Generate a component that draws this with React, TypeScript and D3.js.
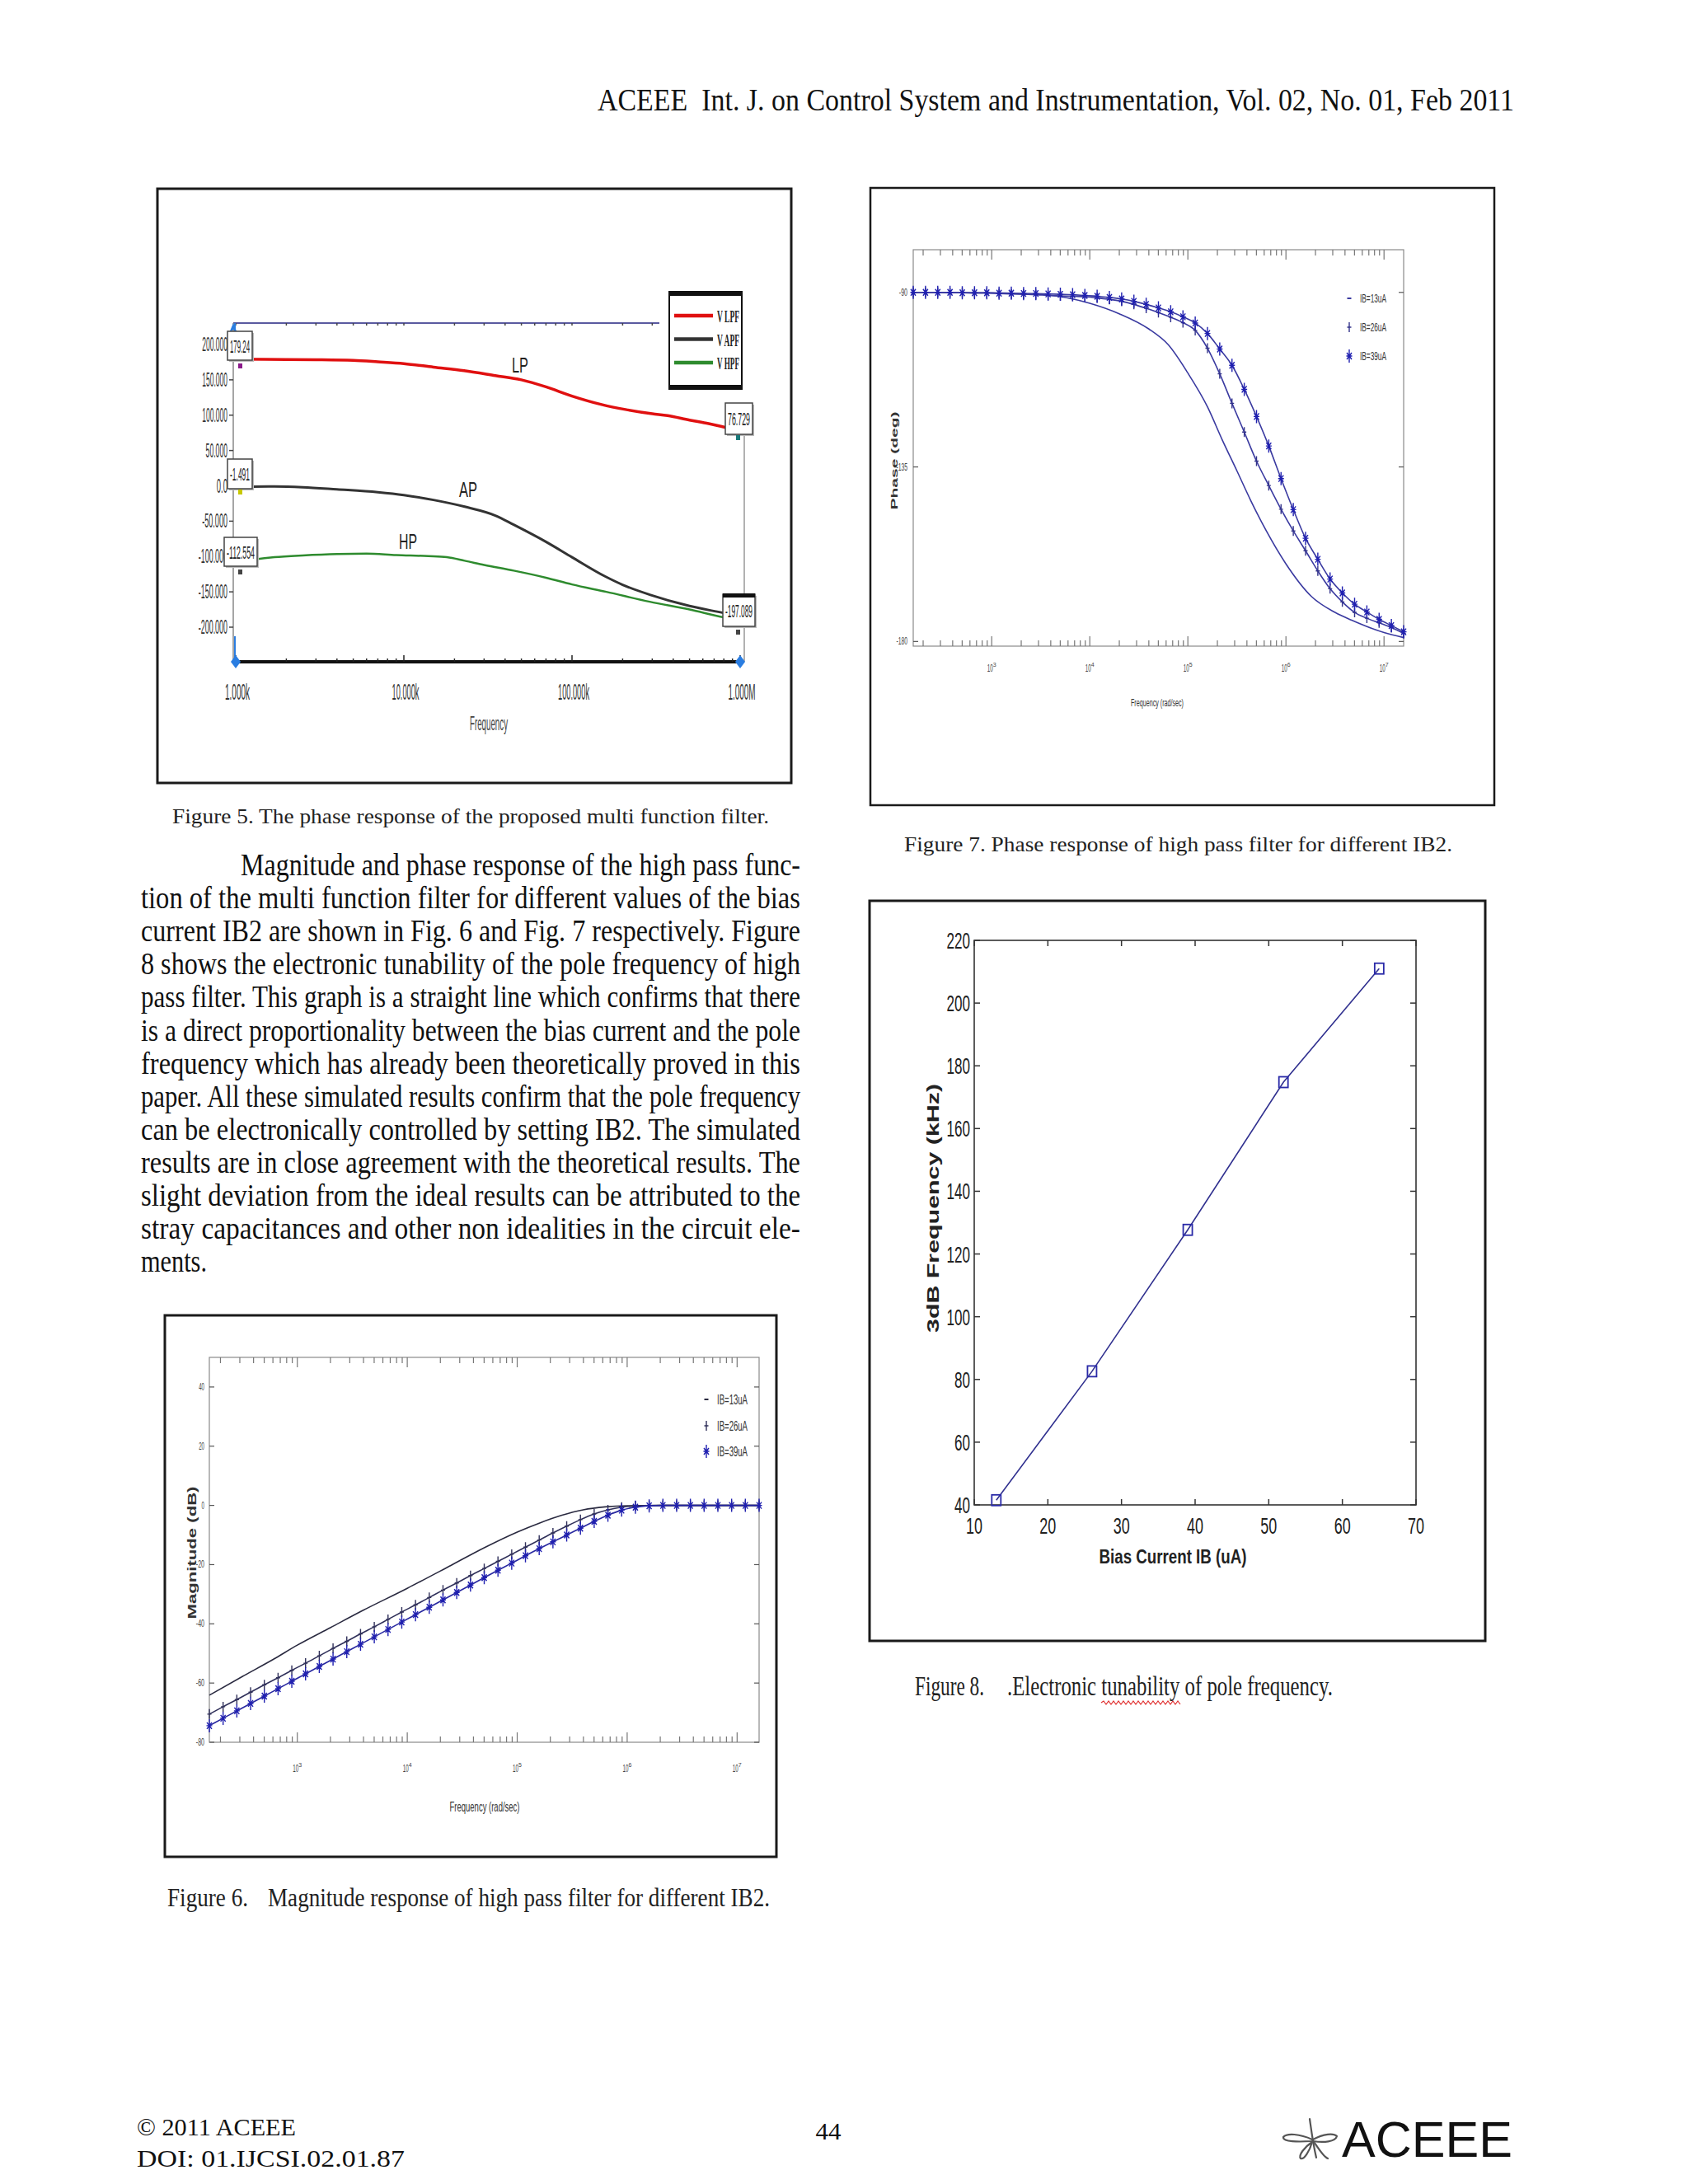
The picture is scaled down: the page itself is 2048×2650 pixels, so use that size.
import React from "react";
import * as d3 from "d3";

// ---------------- page text ----------------
const HEADER = "ACEEE  Int. J. on Control System and Instrumentation, Vol. 02, No. 01, Feb 2011";
const PARAGRAPH_LINES = [
  "Magnitude and phase response of the high pass func-",
  "tion of the multi function filter for different values of the bias",
  "current IB2 are shown in Fig. 6 and Fig. 7 respectively. Figure",
  "8 shows the electronic tunability of the pole frequency of high",
  "pass filter. This graph is a straight line which confirms that there",
  "is a direct proportionality between the bias current and the pole",
  "frequency which has already been theoretically proved in this",
  "paper. All these simulated results confirm that the pole frequency",
  "can be electronically controlled by setting IB2. The simulated",
  "results are in close agreement with the theoretical results. The",
  "slight deviation from the ideal results can be attributed to the",
  "stray capacitances and other non idealities in the circuit ele-",
  "ments.",
];
const CAPTION5 = "Figure 5. The phase response of the proposed multi function filter.";
const CAPTION7 = "Figure 7. Phase response of high pass filter for different IB2.";
const CAPTION6_A = "Figure 6.";
const CAPTION6_B = "Magnitude response of high pass filter for different IB2.";
const CAPTION8_A = "Figure 8.";
const CAPTION8_B = ".Electronic tunability of pole frequency.";

// ---------------- Figure 5 data ----------------
const fig5YTicks = [200, 150, 100, 50, 0, -50, -100, -150, -200];
const fig5YTickLabels = ["200.000", "150.000", "100.000", "50.000", "0.0", "-50.000", "-100.000", "-150.000", "-200.000"];
const fig5XTicks = [1e3, 1e4, 1e5, 1e6];
const fig5XTickLabels = ["1.000k", "10.000k", "100.000k", "1.000M"];
const fig5LegendLabels = ["V LPF", "V APF", "V HPF"];
const lpFreq = [1000, 1500, 2000, 3000, 5000, 7000, 10000, 15000, 22800, 35000, 50000, 70000, 100000, 150000, 208000, 300000, 370000, 500000, 650000, 870000, 1000000];
const lpPhase = [179.2, 179, 178.8, 178.5, 177.5, 175.5, 173, 168, 163, 156, 150, 140, 127, 115, 108, 102, 99.4, 93, 88, 81, 76.7];
const apFreq = [1000, 1700, 2500, 4000, 7000, 10000, 15000, 23000, 35000, 45000, 71000, 100000, 157000, 200000, 290000, 500000, 800000, 1000000];
const apPhase = [-1.5, -1, -2, -5, -9, -13, -20, -29.5, -42, -55, -80, -101, -128, -140, -154, -170, -180, -185];
const hpFreq = [1000, 1300, 1700, 2500, 4000, 6000, 9000, 14000, 18000, 23000, 30000, 45000, 70000, 100000, 160000, 290000, 500000, 800000, 1000000];
const hpPhase = [-108, -104, -101, -98.5, -96.5, -96, -98, -99.5, -101, -106, -112, -120, -130, -139.5, -150, -164, -175, -186, -190];

// ---------------- Figure 6 / 7 data (log10 of rad/sec) ----------------
const bodeExp = [2.2, 2.325, 2.45, 2.575, 2.7, 2.825, 2.95, 3.075, 3.2, 3.325, 3.45, 3.575, 3.7, 3.825, 3.95, 4.075, 4.2, 4.325, 4.45, 4.575, 4.7, 4.825, 4.95, 5.075, 5.2, 5.325, 5.45, 5.575, 5.7, 5.825, 5.95, 6.075, 6.2, 6.325, 6.45, 6.575, 6.7, 6.825, 6.95, 7.075, 7.2];
const mag13Exp = [2.2, 2.5, 2.8, 3.0, 3.3, 3.6, 4.0, 4.4, 4.7, 5.0, 5.2, 5.4, 5.6, 5.8, 6.0, 6.3, 7.2];
const mag13 = [-64.1, -57.8, -51.6, -47.2, -41.3, -35.4, -28.0, -20.2, -14.3, -9.0, -6.0, -3.4, -1.5, -0.5, -0.1, 0, 0];
const mag26 = [-70.5, -68.0, -65.6, -63.1, -60.6, -58.2, -55.7, -53.3, -50.8, -48.3, -45.9, -43.4, -41.0, -38.5, -36.0, -33.6, -31.1, -28.6, -26.2, -23.7, -21.3, -18.9, -16.5, -14.1, -11.7, -9.3, -7.0, -4.8, -2.9, -1.5, -0.6, -0.2, -0.05, 0, 0, 0, 0, 0, 0, 0, 0];
const mag39 = [-74.4, -71.9, -69.4, -66.9, -64.4, -61.9, -59.4, -56.9, -54.4, -51.9, -49.4, -46.9, -44.4, -41.9, -39.4, -36.9, -34.4, -31.9, -29.4, -26.9, -24.4, -21.9, -19.5, -17.0, -14.6, -12.3, -10.0, -7.7, -5.4, -3.3, -1.6, -0.6, -0.15, 0, 0, 0, 0, 0, 0, 0, 0];
const phase13Exp = [2.2, 3.0, 3.5, 4.0, 4.3, 4.6, 4.8, 5.0, 5.2, 5.35, 5.5, 5.64, 5.8, 6.0, 6.26, 6.5, 6.67, 7.0, 7.2];
const phase13 = [-90, -90.1, -90.5, -92.8, -95.5, -99.4, -103.5, -110.8, -119.5, -128, -136, -143.6, -151.5, -160, -168.4, -172.5, -174.5, -177.7, -179];
const phase26 = [-90.0, -90.0, -90.0, -90.1, -90.1, -90.2, -90.2, -90.3, -90.4, -90.5, -90.6, -90.8, -90.9, -91.0, -91.1, -91.4, -91.8, -92.3, -93.1, -94.1, -95.2, -96.4, -97.8, -99.8, -104.4, -111.0, -118.6, -126.0, -133.5, -139.8, -145.9, -151.5, -156.6, -161.8, -166.4, -169.8, -172.5, -174.0, -175.2, -176.4, -177.9];
const phase39 = [-90.0, -90.0, -90.0, -90.0, -90.1, -90.1, -90.1, -90.2, -90.2, -90.3, -90.3, -90.4, -90.5, -90.6, -90.8, -91.0, -91.3, -91.7, -92.3, -93.1, -94.0, -95.0, -96.3, -97.9, -100.6, -104.6, -108.8, -115.0, -122.0, -129.6, -138.0, -146.0, -153.4, -158.8, -163.9, -167.5, -170.4, -172.4, -174.3, -175.9, -177.5];
const bodeLegend = ["IB=13uA", "IB=26uA", "IB=39uA"];
const fig6YTicks = [-80, -60, -40, -20, 0, 20, 40];
const fig7YTicks = [-180, -135, -90];
const bodeMajorExp = [3, 4, 5, 6, 7];

// ---------------- Figure 8 data ----------------
const fig8Ib = [13, 26, 39, 52, 65];
const fig8F3db = [41.5, 82.6, 127.7, 174.8, 211.0];
const fig8XTicks = [10, 20, 30, 40, 50, 60, 70];
const fig8YTicks = [40, 60, 80, 100, 120, 140, 160, 180, 200, 220];

const SERIF = "'Liberation Serif', 'Times New Roman', serif";
const SANS = "'Liberation Sans', Arial, sans-serif";

type Marker = "none" | "plus" | "star";

function markerPath(m: Marker, x: number, y: number): string {
  if (m === "plus") return `M${x},${y - 6}V${y + 6}M${x - 2.5},${y}H${x + 2.5}`;
  if (m === "star")
    return `M${x},${y - 8}V${y + 8}M${x - 3.5},${y}H${x + 3.5}M${x - 3},${y - 4}L${x + 3},${y + 4}M${x - 3},${y + 4}L${x + 3},${y - 4}`;
  return `M${x - 2.5},${y}H${x + 2.5}`;
}

function T(props: any) {
  const { children, len, adj, ...rest } = props;
  return (
    <text {...rest} textLength={len} lengthAdjust={adj || "spacingAndGlyphs"} style={{ whiteSpace: "pre" }}>
      {children}
    </text>
  );
}

// ---------------- Figure 5 ----------------
function Figure5() {
  const x = d3.scaleLog().domain([1e3, 1e6]).range([286, 898]);
  const y = d3.scaleLinear().domain([-200, 200]).range([761, 418]);
  const line = d3
    .line<[number, number]>()
    .x((d) => x(d[0]))
    .y((d) => y(d[1]))
    .curve(d3.curveMonotoneX);
  const minor: number[] = [];
  for (let k = 3; k <= 5; k++) for (let m = 1; m <= 9; m++) minor.push(m * Math.pow(10, k));
  minor.push(1e6);
  const lp = lpFreq.map((f, i) => [f, lpPhase[i]] as [number, number]);
  const ap = apFreq.map((f, i) => [f, apPhase[i]] as [number, number]);
  const hp = hpFreq.map((f, i) => [f, hpPhase[i]] as [number, number]);
  const box = (bx: number, by: number, bw: number, bh: number, label: string, heavy = false) => (
    <g>
      <rect x={bx + 2} y={by + 2} width={bw} height={bh} fill="#bbb" />
      <rect x={bx} y={by} width={bw} height={bh} fill="#fff" stroke="#444" strokeWidth={1.5} />
      {heavy && <rect x={bx} y={by - 1} width={bw} height={5} fill="#111" />}
      <T x={bx + bw / 2} y={by + bh / 2 + 8} fontFamily={SANS} fontSize={22} textAnchor="middle" fill="#222" len={bw - 6}>
        {label}
      </T>
    </g>
  );
  return (
    <g>
      <rect x={191} y={229} width={769} height={721} fill="#fff" stroke="#1a1a1a" strokeWidth={3} />
      {/* top blue line */}
      <line x1={283} x2={800} y1={392} y2={392} stroke="#5a5aa0" strokeWidth={2} />
      {minor.filter((v) => x(v) <= 800).map((v, i) => (
        <line key={"tm" + i} x1={x(v)} x2={x(v)} y1={392} y2={395} stroke="#444" strokeWidth={1.5} />
      ))}
      {/* y axis */}
      <line x1={283} x2={283} y1={392} y2={803} stroke="#888" strokeWidth={1.5} />
      <line x1={903} x2={903} y1={527} y2={803} stroke="#999" strokeWidth={1.5} />
      {fig5YTicks.map((v, i) => (
        <g key={"yt" + i}>
          <line x1={278} x2={283} y1={y(v)} y2={y(v)} stroke="#444" strokeWidth={1.5} />
          <T x={276} y={y(v) + 8} fontFamily={SANS} fontSize={24} textAnchor="end" fill="#333" len={fig5YTickLabels[i].length * 4.4}>
            {fig5YTickLabels[i]}
          </T>
        </g>
      ))}
      {/* bottom axis */}
      <line x1={283} x2={900} y1={803} y2={803} stroke="#111" strokeWidth={4} />
      {minor.map((v, i) => (
        <line key={"bm" + i} x1={x(v)} x2={x(v)} y1={803} y2={fig5XTicks.includes(v) ? 795 : 799} stroke="#222" strokeWidth={1.5} />
      ))}
      {fig5XTicks.map((v, i) => (
        <T key={"xl" + i} x={x(v) + 2} y={849} fontFamily={SANS} fontSize={28} textAnchor="middle" fill="#333" len={[30, 33, 38, 33][i]}>
          {fig5XTickLabels[i]}
        </T>
      ))}
      <T x={593} y={886} fontFamily={SANS} fontSize={24} textAnchor="middle" fill="#444" len={46}>
        Frequency
      </T>
      {/* cursors */}
      <path d="M283,392 L278,404 L283,400 L288,404 Z" fill="#2a7de1" />
      <line x1={285} x2={285} y1={392} y2={410} stroke="#2a7de1" strokeWidth={2} />
      <line x1={285} x2={285} y1={772} y2={803} stroke="#2a7de1" strokeWidth={2} />
      <path d="M286,795 L292,803 L286,811 L280,803 Z" fill="#2a7de1" />
      <path d="M898,795 L904,803 L898,811 L892,803 Z" fill="#2a7de1" />
      {/* curves */}
      <path d={line(hp) || ""} fill="none" stroke="#2e8b2e" strokeWidth={2.5} />
      <path d={line(ap) || ""} fill="none" stroke="#333" strokeWidth={3} />
      <path d={line(lp) || ""} fill="none" stroke="#e01010" strokeWidth={3.5} />
      {/* curve labels */}
      <T x={631} y={452} fontFamily={SANS} fontSize={26} textAnchor="middle" fill="#222" len={20}>LP</T>
      <T x={568} y={603} fontFamily={SANS} fontSize={26} textAnchor="middle" fill="#222" len={22}>AP</T>
      <T x={495} y={666} fontFamily={SANS} fontSize={26} textAnchor="middle" fill="#222" len={22}>HP</T>
      {/* data labels */}
      {box(276, 402, 30, 35, "179.24")}
      {box(276, 557, 30, 36, "-1.491")}
      {box(272, 652, 40, 35, "-112.554")}
      {box(880, 489, 33, 38, "76.729")}
      {box(877, 721, 39, 39, "-197.089", true)}
      <rect x={289} y={441} width={5} height={6} fill="#8a1a8a" />
      <rect x={289} y={594} width={5} height={6} fill="#c8c800" />
      <rect x={289} y={691} width={5} height={6} fill="#444" />
      <rect x={893} y={528} width={5} height={6} fill="#1a7a7a" />
      <rect x={893} y={764} width={5} height={6} fill="#444" />
      {/* legend */}
      <rect x={812} y={356} width={88} height={114} fill="#fff" stroke="#111" strokeWidth={2} />
      <rect x={811} y={353} width={90} height={6} fill="#111" />
      <rect x={811} y={467} width={90} height={6} fill="#111" />
      {["#e01010", "#333", "#2e8b2e"].map((c, i) => (
        <g key={"lg" + i}>
          <line x1={818} x2={865} y1={383 + i * 28.5} y2={383 + i * 28.5} stroke={c} strokeWidth={4.5} />
          <T x={870} y={391 + i * 28.5} fontFamily={SERIF} fontWeight="bold" fontSize={22} fill="#222" len={27}>
            {fig5LegendLabels[i]}
          </T>
        </g>
      ))}
    </g>
  );
}

// ---------------- Bode plots (Figures 6 and 7) ----------------
type Series = { exps: number[]; vals: number[]; color: string; marker: Marker; markColor: string };
type BodeProps = {
  L: number; R: number; T: number; B: number;
  yDomain: [number, number]; yTicks: number[];
  series: Series[];
  legX: number; legTextX: number; legYs: number[]; legLen: number; legSize: number;
  xLabelX: number; xLabelY: number; xLabelLen: number; xLabelSize: number;
  yLabel: string; yLabelX: number; yLabelY: number; yLabelLen: number; yLabelSize: number;
  tickLabelY: number; yTickLabelX: number;
};

function BodePlot(p: BodeProps) {
  const x = d3.scaleLog().domain([Math.pow(10, 2.2), Math.pow(10, 7.2)]).range([p.L, p.R]);
  const y = d3.scaleLinear().domain(p.yDomain).range([p.B, p.T]);
  const ticks: { v: number; major: boolean }[] = [];
  for (let k = 2; k <= 7; k++)
    for (let m = 1; m <= 9; m++) {
      const v = m * Math.pow(10, k);
      if (v >= Math.pow(10, 2.2) && v <= Math.pow(10, 7.2)) ticks.push({ v, major: m === 1 });
    }
  return (
    <g>
      <rect x={p.L} y={p.T} width={p.R - p.L} height={p.B - p.T} fill="#fff" stroke="#8a8a8a" strokeWidth={1.2} />
      {ticks.map((t, i) => (
        <g key={"xt" + i}>
          <line x1={x(t.v)} x2={x(t.v)} y1={p.T} y2={p.T + (t.major ? 12 : 7)} stroke="#777" strokeWidth={1.2} />
          <line x1={x(t.v)} x2={x(t.v)} y1={p.B} y2={p.B - (t.major ? 12 : 7)} stroke="#777" strokeWidth={1.2} />
        </g>
      ))}
      {p.yTicks.map((v, i) => (
        <g key={"yt" + i}>
          <line x1={p.L} x2={p.L + 6} y1={y(v)} y2={y(v)} stroke="#555" strokeWidth={1.2} />
          <line x1={p.R} x2={p.R - 6} y1={y(v)} y2={y(v)} stroke="#555" strokeWidth={1.2} />
          <T x={p.yTickLabelX} y={y(v) + 4} fontFamily={SANS} fontSize={12} textAnchor="end" fill="#444" len={String(v).length * 3.4}>
            {String(v)}
          </T>
        </g>
      ))}
      {bodeMajorExp.map((e, i) => (
        <text key={"xl" + i} x={x(Math.pow(10, e))} y={p.tickLabelY} fontFamily={SANS} fontSize={12} textAnchor="middle" fill="#444">
          <tspan textLength={7} lengthAdjust="spacingAndGlyphs">10</tspan>
          <tspan dy={-6} fontSize={7}>{e}</tspan>
        </text>
      ))}
      {p.series.map((s, si) => {
        const pts = s.exps.map((e, i) => [x(Math.pow(10, e)), y(s.vals[i])] as [number, number]);
        const d = d3.line().curve(d3.curveMonotoneX)(pts) || "";
        return (
          <g key={"s" + si}>
            <path d={d} fill="none" stroke={s.color} strokeWidth={1.6} />
            {s.marker !== "none" && (
              <path d={pts.map((q) => markerPath(s.marker, q[0], q[1])).join("")} fill="none" stroke={s.markColor} strokeWidth={1.4} />
            )}
          </g>
        );
      })}
      {p.series.map((s, si) => (
        <g key={"lg" + si}>
          <path d={markerPath(s.marker, p.legX, p.legYs[si])} stroke={s.markColor} strokeWidth={s.marker === "none" ? 2 : 1.4} fill="none" />
          <T x={p.legTextX} y={p.legYs[si] + p.legSize * 0.36} fontFamily={SANS} fontSize={p.legSize} fill="#333" len={p.legLen}>
            {bodeLegend[si]}
          </T>
        </g>
      ))}
      <T x={p.xLabelX} y={p.xLabelY} fontFamily={SANS} fontSize={p.xLabelSize} textAnchor="middle" fill="#333" len={p.xLabelLen}>
        Frequency (rad/sec)
      </T>
      <g transform={`translate(${p.yLabelX},${p.yLabelY}) rotate(-90)`}>
        <T x={0} y={0} fontFamily={SANS} fontWeight="bold" fontSize={p.yLabelSize} textAnchor="middle" fill="#333" len={p.yLabelLen}>
          {p.yLabel}
        </T>
      </g>
    </g>
  );
}

function Figure6() {
  return (
    <g>
      <rect x={200} y={1596} width={742} height={657} fill="#fff" stroke="#1a1a1a" strokeWidth={3} />
      <BodePlot
        L={254} R={921} T={1647} B={2114}
        yDomain={[-80, 50]} yTicks={fig6YTicks}
        series={[
          { exps: mag13Exp, vals: mag13, color: "#2a2a40", marker: "none", markColor: "#2a2a40" },
          { exps: bodeExp, vals: mag26, color: "#30305a", marker: "plus", markColor: "#30305a" },
          { exps: bodeExp, vals: mag39, color: "#2828a0", marker: "star", markColor: "#2020b0" },
        ]}
        legX={857} legTextX={870} legYs={[1698, 1730, 1761]} legLen={37} legSize={17}
        xLabelX={588} xLabelY={2198} xLabelLen={85} xLabelSize={17}
        yLabel="Magnitude (dB)" yLabelX={238} yLabelY={1884} yLabelLen={161} yLabelSize={14}
        tickLabelY={2150} yTickLabelX={248}
      />
    </g>
  );
}

function Figure7() {
  return (
    <g>
      <rect x={1056} y={228} width={757} height={749} fill="#fff" stroke="#1a1a1a" strokeWidth={2.5} />
      <BodePlot
        L={1108} R={1703} T={303} B={784}
        yDomain={[-181.2, -79.0]} yTicks={fig7YTicks}
        series={[
          { exps: phase13Exp, vals: phase13, color: "#3a3aa0", marker: "none", markColor: "#3a3aa0" },
          { exps: bodeExp, vals: phase26, color: "#3a3aa0", marker: "plus", markColor: "#33338a" },
          { exps: bodeExp, vals: phase39, color: "#3a3aa0", marker: "star", markColor: "#2020b0" },
        ]}
        legX={1637} legTextX={1650} legYs={[362, 397, 432]} legLen={32} legSize={15}
        xLabelX={1404} xLabelY={857} xLabelLen={64} xLabelSize={13}
        yLabel="Phase (deg)" yLabelX={1089} yLabelY={559} yLabelLen={119} yLabelSize={11}
        tickLabelY={815} yTickLabelX={1101}
      />
    </g>
  );
}

// ---------------- Figure 8 ----------------
function Figure8() {
  const L = 1182, R = 1718, TT = 1141, B = 1826;
  const x = d3.scaleLinear().domain([10, 70]).range([L, R]);
  const y = d3.scaleLinear().domain([40, 220]).range([B, TT]);
  const pts = fig8Ib.map((v, i) => [x(v), y(fig8F3db[i])] as [number, number]);
  const d = d3.line()(pts) || "";
  return (
    <g>
      <rect x={1055} y={1093} width={747} height={898} fill="#fff" stroke="#1a1a1a" strokeWidth={3} />
      <rect x={L} y={TT} width={R - L} height={B - TT} fill="#fff" stroke="#333" strokeWidth={1.6} />
      {fig8XTicks.map((v, i) => (
        <g key={"x" + i}>
          <line x1={x(v)} x2={x(v)} y1={B} y2={B - 7} stroke="#333" strokeWidth={1.5} />
          <line x1={x(v)} x2={x(v)} y1={TT} y2={TT + 7} stroke="#333" strokeWidth={1.5} />
          <T x={x(v)} y={1861} fontFamily={SANS} fontSize={28} textAnchor="middle" fill="#222" len={20}>
            {String(v)}
          </T>
        </g>
      ))}
      {fig8YTicks.map((v, i) => (
        <g key={"y" + i}>
          <line x1={L} x2={L + 7} y1={y(v)} y2={y(v)} stroke="#333" strokeWidth={1.5} />
          <line x1={R} x2={R - 7} y1={y(v)} y2={y(v)} stroke="#333" strokeWidth={1.5} />
          <T x={1177} y={y(v) + 10} fontFamily={SANS} fontSize={28} textAnchor="end" fill="#222" len={String(v).length * 9.5}>
            {String(v)}
          </T>
        </g>
      ))}
      <path d={d} fill="none" stroke="#30308f" strokeWidth={1.6} />
      {pts.map((q, i) => (
        <rect key={"m" + i} x={q[0] - 5.5} y={q[1] - 6.5} width={11} height={13} fill="none" stroke="#2a2aa8" strokeWidth={1.8} />
      ))}
      <T x={1423} y={1897} fontFamily={SANS} fontWeight="bold" fontSize={24} textAnchor="middle" fill="#222" len={179}>
        Bias Current IB (uA)
      </T>
      <g transform="translate(1139,1466) rotate(-90)">
        <T x={0} y={0} fontFamily={SANS} fontWeight="bold" fontSize={21} textAnchor="middle" fill="#222" len={302}>
          3dB Frequency (kHz)
        </T>
      </g>
    </g>
  );
}

function wavy(x0: number, x1: number, yy: number): string {
  let s = `M${x0},${yy}`;
  let up = true;
  for (let xx = x0 + 3; xx <= x1; xx += 3) {
    s += `L${xx},${yy + (up ? -2 : 2)}`;
    up = !up;
  }
  return s;
}

export default function App() {
  const paraBase = 1062;
  const paraStep = 40.1;
  return (
    <svg
      width={2048}
      height={2650}
      viewBox="0 0 2048 2650"
      xmlns="http://www.w3.org/2000/svg"
      style={{ position: "absolute", left: 0, top: 0, display: "block" }}
    >
      <rect x={0} y={0} width={2048} height={2650} fill="#fff" />
      <T x={725} y={134} fontFamily={SERIF} fontSize={38} fill="#111" len={1112}>
        {HEADER}
      </T>

      <Figure5 />
      <T x={209} y={999} fontFamily={SERIF} fontSize={26} fill="#222" len={724}>
        {CAPTION5}
      </T>

      {PARAGRAPH_LINES.map((ln, i) => {
        const first = i === 0;
        const last = i === PARAGRAPH_LINES.length - 1;
        return (
          <T
            key={"p" + i}
            x={first ? 292 : 171}
            y={paraBase + i * paraStep}
            fontFamily={SERIF}
            fontSize={38}
            fill="#111"
            len={first ? 679 : last ? 80 : 800}
          >
            {ln}
          </T>
        );
      })}

      <Figure6 />
      <T x={203} y={2313} fontFamily={SERIF} fontSize={32} fill="#222" len={98}>
        {CAPTION6_A}
      </T>
      <T x={325} y={2313} fontFamily={SERIF} fontSize={32} fill="#222" len={609}>
        {CAPTION6_B}
      </T>

      <Figure7 />
      <T x={1097} y={1033} fontFamily={SERIF} fontSize={26} fill="#222" len={665}>
        {CAPTION7}
      </T>

      <Figure8 />
      <T x={1110} y={2057} fontFamily={SERIF} fontSize={34} fill="#222" len={84}>
        {CAPTION8_A}
      </T>
      <T x={1222} y={2057} fontFamily={SERIF} fontSize={34} fill="#222" len={395}>
        {CAPTION8_B}
      </T>
      <path d={wavy(1336, 1433, 2066)} fill="none" stroke="#e03030" strokeWidth={1.2} />

      {/* footer */}
      <T x={166} y={2591} fontFamily={SERIF} fontSize={29} fill="#111" len={193}>
        © 2011 ACEEE
      </T>
      <T x={166} y={2629} fontFamily={SERIF} fontSize={29} fill="#111" len={325}>
        DOI: 01.IJCSI.02.01.87
      </T>
      <T x={1005} y={2596} fontFamily={SERIF} fontSize={29} fill="#111" textAnchor="middle" len={31}>
        44
      </T>
      <g fill="none" stroke="#555" strokeWidth={2.2} strokeLinecap="round">
        <path d="M1589,2571 C1591,2585 1593,2601 1597,2618" />
        <path d="M1592,2596 C1577,2589 1561,2588 1557,2593 C1556,2599 1575,2599 1592,2598" />
        <path d="M1593,2596 C1606,2589 1618,2588 1622,2592 C1620,2599 1606,2600 1593,2598" />
        <path d="M1592,2599 C1583,2605 1575,2615 1578,2619 C1582,2621 1589,2610 1592,2599" />
        <path d="M1595,2600 C1601,2609 1606,2617 1611,2619" />
      </g>
      <T x={1628} y={2617} fontFamily={SANS} fontSize={61} fill="#111" len={207}>
        ACEEE
      </T>
    </svg>
  );
}
